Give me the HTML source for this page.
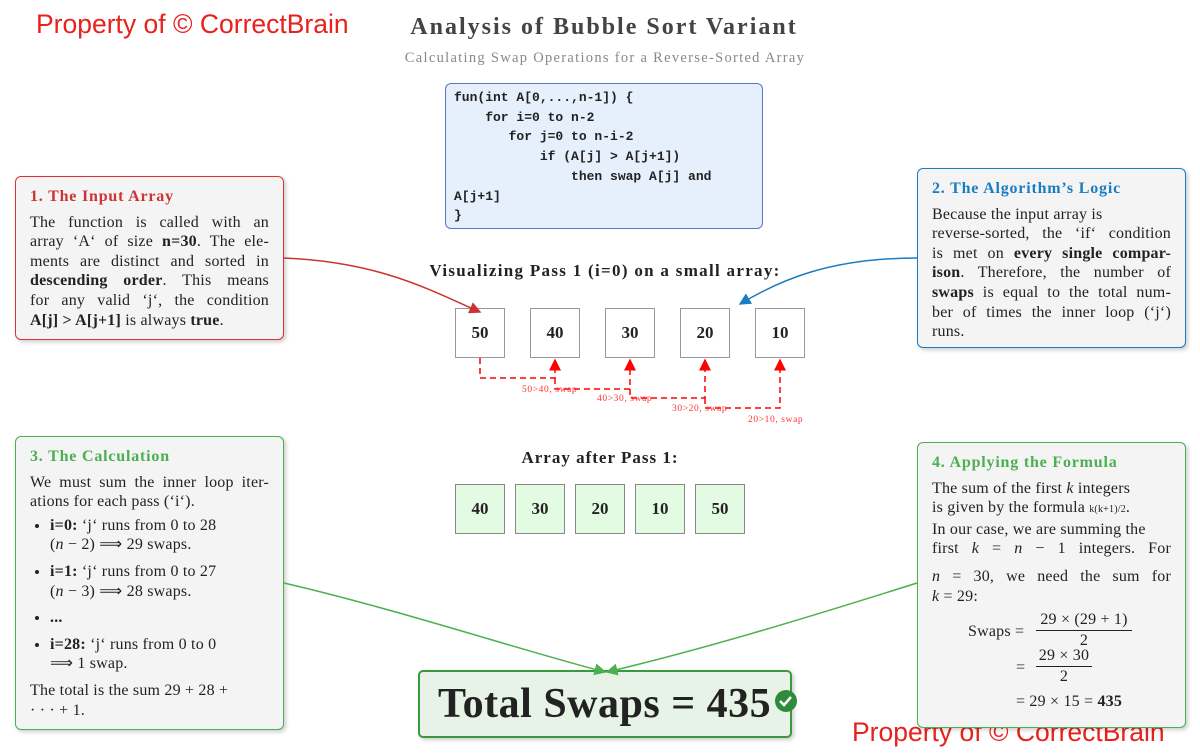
<!DOCTYPE html>
<html><head><meta charset="utf-8"><style>
body{margin:0;width:1200px;height:754px;background:#fff;position:relative;overflow:hidden;font-family:"Liberation Serif",serif;color:#222}
.a{position:absolute}
.box{position:absolute;background:#f4f4f4;border:1.5px solid;border-radius:6px;box-shadow:2px 2px 4px rgba(0,0,0,.2);padding:10px 14px;box-sizing:border-box;font-size:16px;letter-spacing:0.2px;line-height:19.6px}
.box h3{margin:0 0 6px;font-size:16px;font-weight:bold;letter-spacing:0.8px}
.j{white-space:nowrap;text-align:justify;text-align-last:justify}
.cell{position:absolute;width:50px;height:50px;border:1px solid #999;box-sizing:border-box;text-align:center;line-height:48px;font-weight:bold;font-size:17px;background:#fff}
.g{background:#e3fbe3;border-color:#888}
.wm{position:absolute;font-family:"Liberation Sans",sans-serif;color:#e8211d;font-size:26.5px}
ul{margin:4px 0;padding-left:20px}li{margin-bottom:7px}
</style></head><body>
<div class="wm" style="left:36px;top:9px">Property of © CorrectBrain</div>
<div class="wm" style="left:852px;top:717px">Property of © CorrectBrain</div>
<div class="a" style="left:0;width:1208px;top:14px;text-align:center;font-size:24px;font-weight:bold;color:#444;letter-spacing:2px">Analysis of Bubble Sort Variant</div>
<div class="a" style="left:0;width:1210px;top:50px;text-align:center;font-size:14.5px;color:#888;letter-spacing:1.3px">Calculating Swap Operations for a Reverse-Sorted Array</div>
<div class="a" style="left:445px;top:83px;width:318px;height:146px;box-sizing:border-box;background:#e6f0fc;border:1.5px solid #5577cc;border-radius:6px;padding:4px 8px;font-family:'Liberation Mono',monospace;font-size:13px;line-height:19.7px;white-space:pre;font-weight:bold;color:#222">fun(int A[0,...,n-1]) {
    for i=0 to n-2
       for j=0 to n-i-2
           if (A[j] > A[j+1])
               then swap A[j] and
A[j+1]
}</div>
<div class="box" style="left:15px;top:176px;width:269px;height:164px;border-color:#d33">
<h3 style="color:#cc3333">1. The Input Array</h3>
<div class="j">The function is called with an</div>
<div class="j">array ‘A‘ of size <b>n=30</b>. The ele-</div>
<div class="j">ments are distinct and sorted in</div>
<div class="j"><b>descending order</b>. This means</div>
<div class="j">for any valid ‘j‘, the condition</div>
<div><b>A[j] &gt; A[j+1]</b> is always <b>true</b>.</div></div>
<div class="box" style="left:917px;top:168px;width:269px;height:180px;border-color:#1a7cc1">
<h3 style="color:#1a7cc1">2. The Algorithm’s Logic</h3>
<div>Because the input array is</div>
<div class="j">reverse-sorted, the ‘if‘ condition</div>
<div class="j">is met on <b>every single compar-</b></div>
<div class="j"><b>ison</b>. Therefore, the number of</div>
<div class="j"><b>swaps</b> is equal to the total num-</div>
<div class="j">ber of times the inner loop (‘j‘)</div>
<div>runs.</div></div>
<div class="box" style="left:15px;top:436px;width:269px;height:294px;border-color:#4caf50">
<h3 style="color:#4caf50">3. The Calculation</h3>
<div class="j">We must sum the inner loop iter-</div><div>ations for each pass (‘i‘).</div>
<ul><li><b>i=0:</b> ‘j‘ runs from 0 to 28<br>(<i>n</i> − 2) ⟹ 29 swaps.</li><li><b>i=1:</b> ‘j‘ runs from 0 to 27<br>(<i>n</i> − 3) ⟹ 28 swaps.</li><li><b>...</b></li><li><b>i=28:</b> ‘j‘ runs from 0 to 0<br>⟹ 1 swap.</li></ul>The total is the sum 29 + 28 +<br>· · · + 1.</div>
<div class="box" style="left:917px;top:442px;width:269px;height:286px;border-color:#4caf50">
<h3 style="color:#4caf50">4. Applying the Formula</h3>The sum of the first <i>k</i> integers<br>is given by the formula <span style="font-size:10px">k(k+1)/2</span>.<br>In our case, we are summing the<br><div class="j">first <i>k</i> = <i>n</i> − 1 integers. For</div><div style="height:8px"></div><div class="j"><i>n</i> = 30, we need the sum for</div><i>k</i> = 29:
<div style="position:relative;height:110px">
<div class="a" style="left:36px;top:16px">Swaps =</div>
<div class="a" style="left:104px;top:4px;width:96px;text-align:center;border-bottom:1px solid #222;white-space:nowrap">29 × (29 + 1)</div><div class="a" style="left:104px;top:25px;width:96px;text-align:center">2</div>
<div class="a" style="left:84px;top:52px">=</div>
<div class="a" style="left:104px;top:40px;width:56px;text-align:center;border-bottom:1px solid #222;white-space:nowrap">29 × 30</div><div class="a" style="left:104px;top:61px;width:56px;text-align:center">2</div>
<div class="a" style="left:84px;top:86px;white-space:nowrap">= 29 × 15 = <b>435</b></div>
</div></div>
<div class="a" style="left:0;width:1210px;top:261px;text-align:center;font-weight:bold;font-size:17px;letter-spacing:1.3px">Visualizing Pass 1 (i=0) on a small array:</div>
<div class="cell" style="left:455px;top:308px">50</div><div class="cell" style="left:530px;top:308px">40</div><div class="cell" style="left:605px;top:308px">30</div><div class="cell" style="left:680px;top:308px">20</div><div class="cell" style="left:755px;top:308px">10</div>
<div class="a" style="left:0;width:1200px;top:448px;text-align:center;font-weight:bold;font-size:17px;letter-spacing:1px">Array after Pass 1:</div>
<div class="cell g" style="left:455px;top:484px">40</div><div class="cell g" style="left:515px;top:484px">30</div><div class="cell g" style="left:575px;top:484px">20</div><div class="cell g" style="left:635px;top:484px">10</div><div class="cell g" style="left:695px;top:484px">50</div>
<div class="a" style="left:418px;top:670px;width:374px;height:68px;box-sizing:border-box;background:#e6f3e6;border:2px solid #3a9a3a;border-radius:5px;box-shadow:2px 2px 4px rgba(0,0,0,.2);font-size:42px;font-weight:bold;line-height:64px;padding-left:18px;letter-spacing:0.5px;white-space:nowrap">Total Swaps = 435</div>
<svg class="a" style="left:0;top:0" width="1200" height="754">
<defs><marker id="r" markerWidth="8" markerHeight="8" refX="7" refY="4" orient="auto"><path d="M0,0L8,4L0,8z" fill="#c33"/></marker>
<marker id="b" markerWidth="8" markerHeight="8" refX="7" refY="4" orient="auto"><path d="M0,0L8,4L0,8z" fill="#1a7cc1"/></marker>
<marker id="gr" markerWidth="8" markerHeight="8" refX="7" refY="4" orient="auto"><path d="M0,0L8,4L0,8z" fill="#4caf50"/></marker>
<marker id="rd" markerWidth="8" markerHeight="8" refX="7" refY="4" orient="auto"><path d="M0,0L8,4L0,8z" fill="#f00"/></marker></defs>
<path d="M284,258 C380,262 430,290 480,312" stroke="#c33" stroke-width="1.5" fill="none" marker-end="url(#r)"/>
<path d="M917,258 C830,258 780,280 740,304" stroke="#1a7cc1" stroke-width="1.5" fill="none" marker-end="url(#b)"/>
<path d="M284,583 C400,610 520,650 605,672" stroke="#4caf50" stroke-width="1.5" fill="none" marker-end="url(#gr)"/>
<path d="M917,583 C800,620 700,650 607,672" stroke="#4caf50" stroke-width="1.5" fill="none" marker-end="url(#gr)"/>
<g stroke="#f00" stroke-width="1.5" stroke-dasharray="6,4" fill="none">
<path d="M480,358V378H555V360" marker-end="url(#rd)"/>
<path d="M555,378V389H630V360" marker-end="url(#rd)"/>
<path d="M630,389V398H705V360" marker-end="url(#rd)"/>
<path d="M705,398V408H780V360" marker-end="url(#rd)"/>
</g>
<g fill="#f33" font-size="9.5" font-family="Liberation Serif,serif" letter-spacing="0.6">
<text x="522" y="392">50&gt;40, swap</text><text x="597" y="401">40&gt;30, swap</text><text x="672" y="411">30&gt;20, swap</text><text x="748" y="422">20&gt;10, swap</text></g>
<circle cx="786" cy="701" r="11" fill="#2e8b3a"/><path d="M780,701l4,4l7,-8" stroke="#fff" stroke-width="2.5" fill="none"/>
</svg>
</body></html>
